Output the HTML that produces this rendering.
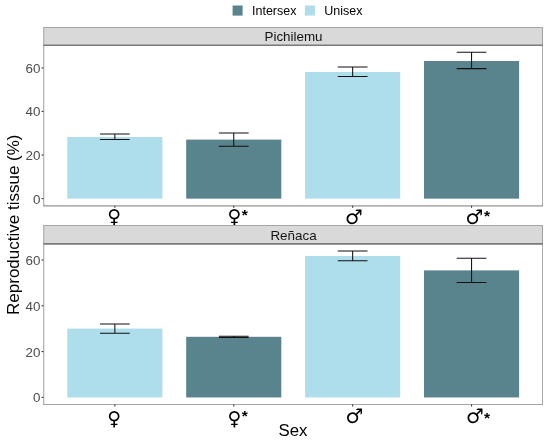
<!DOCTYPE html>
<html lang="en"><head><meta charset="utf-8"><title>Reproductive tissue by sex</title>
<style>html,body{margin:0;padding:0;background:#fff}body{width:550px;height:442px;overflow:hidden}svg{display:block}text{font-family:"Liberation Sans",sans-serif}.tick{font-size:13.4px;fill:#4d4d4d}.strip{font-size:13.4px;fill:#151515}.leg{font-size:12.5px;fill:#000}.ttl{font-size:16.8px;fill:#000}.sym{font-family:"DejaVu Sans","Liberation Sans",sans-serif;fill:#000}.ast{font-family:"Liberation Sans",sans-serif;font-weight:bold;fill:#000}</style></head><body>
<svg width="550" height="442" viewBox="0 0 550 442">
<rect width="550" height="442" fill="#fff"/>
<rect x="232.6" y="5.5" width="10" height="10.1" fill="#59838D"/>
<text class="leg" x="252" y="15">Intersex</text>
<rect x="304.9" y="5.5" width="10.1" height="10.1" fill="#AEDDEC"/>
<text class="leg" x="324.2" y="15">Unisex</text>
<rect x="43.5" y="45.0" width="499.4" height="160.8" fill="#fff"/>
<rect x="67.28" y="137.0" width="95.12" height="61.65" fill="#AEDDEC"/>
<rect x="186.19" y="139.6" width="95.12" height="59.05" fill="#59838D"/>
<rect x="305.09" y="72.0" width="95.12" height="126.65" fill="#AEDDEC"/>
<rect x="424.00" y="61.0" width="95.12" height="137.65" fill="#59838D"/>
<path d="M99.98 134.0H129.71M99.98 139.4H129.71M114.84 134.0V139.4" stroke="#111" stroke-width="1.05" fill="none"/>
<path d="M218.88 133.0H248.61M218.88 146.2H248.61M233.75 133.0V146.2" stroke="#111" stroke-width="1.05" fill="none"/>
<path d="M337.79 67.0H367.52M337.79 76.4H367.52M352.65 67.0V76.4" stroke="#111" stroke-width="1.05" fill="none"/>
<path d="M456.69 52.2H486.42M456.69 68.6H486.42M471.56 52.2V68.6" stroke="#111" stroke-width="1.05" fill="none"/>
<path d="M43.75 45.25V206.25" stroke="#949494" stroke-width="0.9" fill="none"/>
<path d="M542.5 45.25V206.25" stroke="#949494" stroke-width="0.8" fill="none"/>
<path d="M43.3 205.85H542.9" stroke="#949494" stroke-width="1.1" fill="none"/>
<path d="M41.6 198.55H43.45" stroke="#383838" stroke-width="1.15"/>
<text class="tick" x="40.45" y="203.50" text-anchor="end">0</text>
<path d="M41.6 155.01H43.45" stroke="#383838" stroke-width="1.15"/>
<text class="tick" x="40.45" y="159.96" text-anchor="end">20</text>
<path d="M41.6 111.47H43.45" stroke="#383838" stroke-width="1.15"/>
<text class="tick" x="40.45" y="116.42" text-anchor="end">40</text>
<path d="M41.6 67.93H43.45" stroke="#383838" stroke-width="1.15"/>
<text class="tick" x="40.45" y="72.88" text-anchor="end">60</text>
<path d="M114.84 205.8V207.8" stroke="#383838" stroke-width="1.1"/>
<path d="M233.75 205.8V207.8" stroke="#383838" stroke-width="1.1"/>
<path d="M352.65 205.8V207.8" stroke="#383838" stroke-width="1.1"/>
<path d="M471.56 205.8V207.8" stroke="#383838" stroke-width="1.1"/>
<text class="sym" font-size="19.2" x="114.4" y="223.05" text-anchor="middle">♀</text>
<text class="sym" font-size="19.2" x="234.6" y="223.05" text-anchor="middle">♀</text>
<text class="ast" font-size="15.5" x="241.8" y="220.2">*</text>
<text class="sym" font-size="20" x="344.9" y="223.75">♂</text>
<text class="sym" font-size="20" x="465.4" y="223.75">♂</text>
<text class="ast" font-size="15.5" x="484.1" y="221.3">*</text>
<rect x="43.5" y="243.5" width="499.4" height="160.89999999999998" fill="#fff"/>
<rect x="67.28" y="328.6" width="95.12" height="68.85" fill="#AEDDEC"/>
<rect x="186.19" y="336.8" width="95.12" height="60.65" fill="#59838D"/>
<rect x="305.09" y="256.0" width="95.12" height="141.45" fill="#AEDDEC"/>
<rect x="424.00" y="270.4" width="95.12" height="127.05" fill="#59838D"/>
<path d="M99.98 324.0H129.71M99.98 333.2H129.71M114.84 324.0V333.2" stroke="#111" stroke-width="1.05" fill="none"/>
<path d="M218.88 336.2H248.61M218.88 337.4H248.61M233.75 336.2V337.4" stroke="#111" stroke-width="1.05" fill="none"/>
<path d="M337.79 251.0H367.52M337.79 260.8H367.52M352.65 251.0V260.8" stroke="#111" stroke-width="1.05" fill="none"/>
<path d="M456.69 258.2H486.42M456.69 282.4H486.42M471.56 258.2V282.4" stroke="#111" stroke-width="1.05" fill="none"/>
<path d="M43.75 243.9V404.9" stroke="#949494" stroke-width="0.9" fill="none"/>
<path d="M542.5 243.9V404.9" stroke="#949494" stroke-width="0.8" fill="none"/>
<path d="M43.3 404.5H542.9" stroke="#949494" stroke-width="0.85" fill="none"/>
<path d="M41.6 397.35H43.45" stroke="#383838" stroke-width="1.15"/>
<text class="tick" x="40.45" y="402.30" text-anchor="end">0</text>
<path d="M41.6 351.57H43.45" stroke="#383838" stroke-width="1.15"/>
<text class="tick" x="40.45" y="356.52" text-anchor="end">20</text>
<path d="M41.6 305.79H43.45" stroke="#383838" stroke-width="1.15"/>
<text class="tick" x="40.45" y="310.74" text-anchor="end">40</text>
<path d="M41.6 260.01H43.45" stroke="#383838" stroke-width="1.15"/>
<text class="tick" x="40.45" y="264.96" text-anchor="end">60</text>
<path d="M114.84 404.4V406.4" stroke="#383838" stroke-width="1.1"/>
<path d="M233.75 404.4V406.4" stroke="#383838" stroke-width="1.1"/>
<path d="M352.65 404.4V406.4" stroke="#383838" stroke-width="1.1"/>
<path d="M471.56 404.4V406.4" stroke="#383838" stroke-width="1.1"/>
<text class="sym" font-size="19.2" x="114.4" y="424.85" text-anchor="middle">♀</text>
<text class="sym" font-size="19.2" x="234.6" y="424.85" text-anchor="middle">♀</text>
<text class="ast" font-size="15.5" x="241.8" y="421.3">*</text>
<text class="sym" font-size="20" x="345.4" y="422.75">♂</text>
<text class="sym" font-size="20" x="465.9" y="422.75">♂</text>
<text class="ast" font-size="15.5" x="484.1" y="422.7">*</text>
<rect x="43.75" y="27.5" width="498.75" height="17.75" fill="#D9D9D9"/>
<path d="M43.3 27.5H542.9" stroke="#949494" stroke-width="0.8" fill="none"/>
<path d="M43.75 27.5V45.25M542.5 27.5V45.25" stroke="#949494" stroke-width="0.85" fill="none"/>
<path d="M43.3 45.25H542.9" stroke="#7a7a7a" stroke-width="1.5" fill="none"/>
<text class="strip" x="293.50" y="40.8" text-anchor="middle">Pichilemu</text>
<rect x="43.75" y="225.5" width="498.75" height="18.400000000000006" fill="#D9D9D9"/>
<path d="M43.3 225.5H542.9" stroke="#949494" stroke-width="0.8" fill="none"/>
<path d="M43.75 225.5V243.9M542.5 225.5V243.9" stroke="#949494" stroke-width="0.85" fill="none"/>
<path d="M43.3 243.9H542.9" stroke="#7a7a7a" stroke-width="1.6" fill="none"/>
<text class="strip" x="293.50" y="239.65" text-anchor="middle">Reñaca</text>
<text class="ttl" x="292.95" y="436.1" text-anchor="middle">Sex</text>
<text class="ttl" style="font-size:17px" transform="translate(18.7 224.7) rotate(-90)" text-anchor="middle">Reproductive tissue (%)</text>
</svg></body></html>
